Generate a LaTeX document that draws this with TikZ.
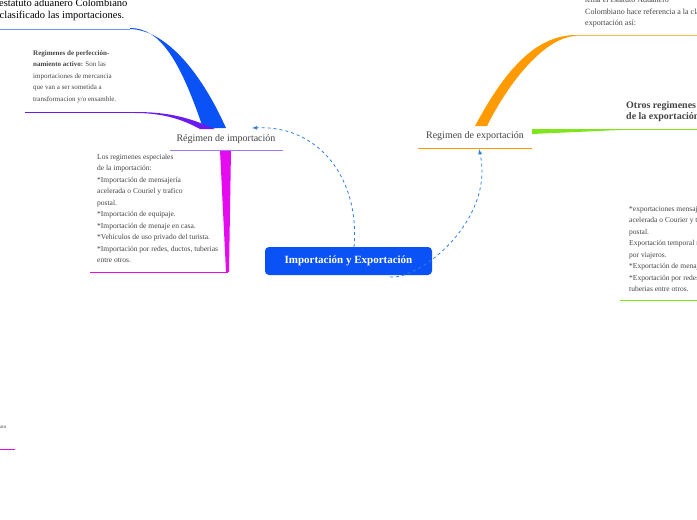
\documentclass[tikz,border=0pt]{standalone}
\usepackage{fontspec}
\setmainfont{Liberation Serif}
\definecolor{cblue}{HTML}{0A52F5}
\definecolor{cpurp}{HTML}{6A1BF0}
\definecolor{cmag}{HTML}{E60AF0}
\definecolor{corng}{HTML}{FF9A00}
\definecolor{cgrn}{HTML}{7FE61A}
\definecolor{ctxt}{HTML}{444444}
\definecolor{cdash}{HTML}{2F7FE0}
\begin{document}
\begin{tikzpicture}[x=1pt,y=-1pt,
  small/.style={font=\fontsize{7.5}{11.5}\selectfont,text=ctxt,align=left,anchor=north west,inner sep=0},
  lbl/.style={font=\fontsize{10}{12}\selectfont,text=ctxt,inner sep=0},
  conn/.style={cdash,dashed,thick,-latex}]
\useasboundingbox (0,0) rectangle (697,520);
\clip (0,0) rectangle (697,520);
% blue branch
\fill[cblue] (203,128) .. controls (180,60) and (160,28) .. (130,28) -- (130,29) .. controls (165,30) and (200,70) .. (226,128) -- cycle;
\draw[cblue!60,thick] (0,29) -- (130,29);
\node[lbl,anchor=north west,font=\fontsize{10.5}{12}\selectfont,text=black,align=left] (t1) at (-13,-1) {El estatuto aduanero Colombiano\\ha clasificado las importaciones.};
% purple branch
\fill[cpurp] (135,112) .. controls (170,112) and (190,118) .. (215,129) -- (200,129) .. controls (180,118) and (160,113) .. (135,113) -- cycle;
\draw[cpurp,thick] (25,112.5) -- (135,112.5);
\node[small,font=\fontsize{7}{11.5}\selectfont] (t2) at (33,50) {\textbf{Regimenes de perfección-}\\\textbf{namiento activo:} Son las\\importaciones de mercancia\\que van a ser sometida a\\transformacion y/o ensamble.};
% magenta branch
\fill[cmag] (220,150) -- (231,150) -- (229,272) -- (226,272) -- cycle;
\draw[cmag,thick] (90,272.5) -- (228,272.5);
\node[small] (t3) at (97,154) {Los regimenes especiales\\de la importación:\\*Importación de mensajería\\acelerada o Couriel y trafico\\postal.\\*Importación de equipaje.\\*Importación de menaje en casa.\\*Vehículos de uso privado del turista.\\*Importación por redes, ductos, tuberias\\entre otros.};
% import node
\node[lbl] (imp) at (226,139) {Régimen de importación};
\draw[cpurp!60,thick] (170,150) -- (283,150);
% bottom-left fragment
\node[small,font=\fontsize{5}{6}\selectfont] (t4) at (0,425) {ato};
\draw[cmag,thick] (0,449) -- (15,449);
% orange branch
\fill[corng] (475,126) .. controls (500,80) and (530,36) .. (575,35) -- (575,36) .. controls (545,38) and (510,80) .. (487,126) -- cycle;
\draw[corng!70,thick] (575,35.5) -- (697,35.5);
\node[small,font=\fontsize{8}{11.5}\selectfont] (t5) at (585,-3) {tema el estatuto Aduanero\\Colombiano hace referencia a la clasificación de la\\exportación así:};
% green branch
\fill[cgrn] (532,129) -- (620,129) -- (620,130) -- (532,134) -- cycle;
\draw[cgrn,thick] (620,129.5) -- (697,129.5);
\node[lbl,anchor=north west,font=\bfseries\fontsize{10}{11}\selectfont,text=ctxt,align=left] (t6) at (626,101) {Otros regimenes especiales\\de la exportación};
\node[small] (t7) at (629,206) {*exportaciones mensajería\\acelerada o Courier y trafico\\postal.\\Exportación temporal realizada\\por viajeros.\\*Exportación de menaje.\\*Exportación por redes, ductos,\\tuberias entre otros.};
\draw[cgrn,thick] (620,300) -- (697,300);
% export node
\node[lbl] (exp) at (475,136) {Regimen de exportación};
\draw[corng,thick] (418,148) -- (532,148);
% central node
\node[draw=none,fill=cblue,rounded corners=4pt,minimum width=167pt,minimum height=28pt,text=white,font=\bfseries\fontsize{11}{13}\selectfont] (c) at (348.5,261) {Importación y Exportación};
% dashed connectors
\draw[conn] (354,247) .. controls (360,180) and (320,125) .. (252,128);
\draw[conn] (390,277) .. controls (420,280) and (495,220) .. (479,149);
\end{tikzpicture}
\end{document}
